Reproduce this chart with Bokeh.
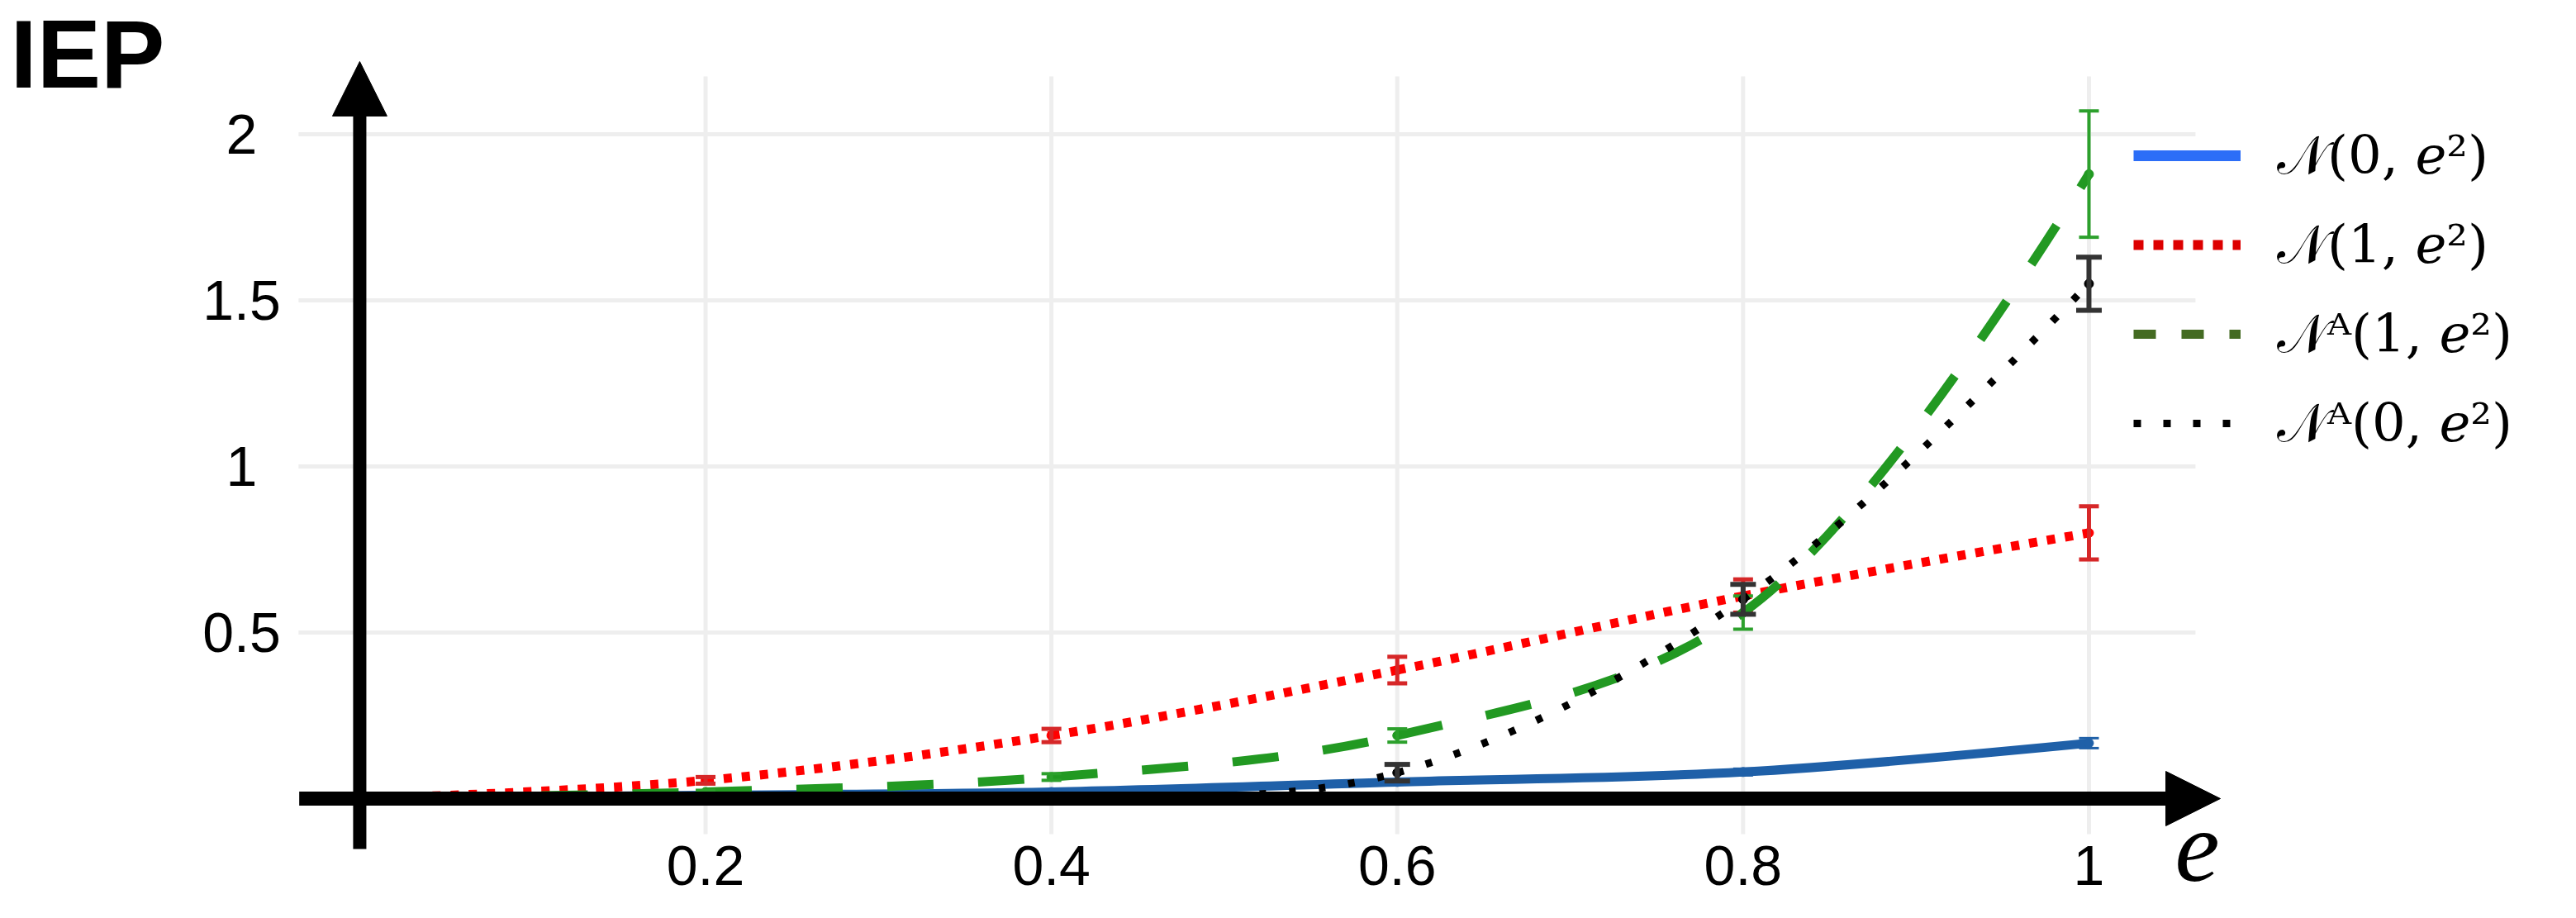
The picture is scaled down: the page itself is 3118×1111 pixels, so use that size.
from bokeh.plotting import figure
from bokeh.models import Arrow, NormalHead, Legend, LegendItem, ColumnDataSource
from bokeh.core.properties import value
from bokeh.embed import file_html
from bokeh.resources import INLINE

# values
e_vals = [0, 0.2, 0.4, 0.6, 0.8, 1.0]
iep_n0 = [0, 0.01, 0.02, 0.05, 0.08, 0.167]
err_n0 = [0, 0.003, 0.004, 0.006, 0.01, 0.015]
iep_n1 = [0, 0.055, 0.19, 0.387, 0.61, 0.80]
err_n1 = [0, 0.01, 0.02, 0.04, 0.05, 0.08]
iep_na1 = [0, 0.02, 0.065, 0.19, 0.56, 1.88]
err_na1 = [0, 0.005, 0.01, 0.02, 0.05, 0.19]
iep_na0 = [0, 0.0, 0.0, 0.078, 0.60, 1.55]
err_na0 = [0, 0.005, 0.01, 0.025, 0.045, 0.08]

series_labels = ["𝒩(0, 𝑒²)", "𝒩(1, 𝑒²)", "𝒩ᴬ(1, 𝑒²)", "𝒩ᴬ(0, 𝑒²)"]

x_ticks = [0.2, 0.4, 0.6, 0.8, 1.0]
x_tick_labels = ["0.2", "0.4", "0.6", "0.8", "1"]
y_ticks = [0.5, 1.0, 1.5, 2.0]
y_tick_labels = ["0.5", "1", "1.5", "2"]

PX, PY = 2093.0, 402.0          # pixels per unit
X0, X1 = -0.2078, 1.2733        # whole canvas
Y0, Y1 = -0.3159, 2.4030
AX0, AX1 = -0.0354, 1.0616      # plot area (grid extent)
AY0, AY1 = -0.107, 2.174


def spline(xs, ys):
    # plotly style smoothed line -> quadratic ends + cubic middle pieces
    pts = [(x * PX, y * PY) for x, y in zip(xs, ys)]
    tan = []
    for i in range(1, len(pts) - 1):
        (x0, y0), (x1, y1), (x2, y2) = pts[i - 1], pts[i], pts[i + 1]
        d1x, d1y = x0 - x1, y0 - y1
        d2x, d2y = x2 - x1, y2 - y1
        d1a = (d1x ** 2 + d1y ** 2) ** 0.25
        d2a = (d2x ** 2 + d2y ** 2) ** 0.25
        nx = d2a * d2a * d1x - d1a * d1a * d2x
        ny = d2a * d2a * d1y - d1a * d1a * d2y
        den1 = 3 * d2a * (d1a + d2a)
        den2 = 3 * d1a * (d1a + d2a)
        tan.append(((x1 + nx / den1, y1 + ny / den1), (x1 - nx / den2, y1 - ny / den2)))
    n = len(pts)
    q = dict(x0=[], y0=[], x1=[], y1=[], cx=[], cy=[])
    for a, b, c in [(0, 1, tan[0][0]), (n - 2, n - 1, tan[-1][1])]:
        q["x0"].append(xs[a]); q["y0"].append(ys[a])
        q["x1"].append(xs[b]); q["y1"].append(ys[b])
        q["cx"].append(c[0] / PX); q["cy"].append(c[1] / PY)
    cb = dict(x0=[], y0=[], x1=[], y1=[], cx0=[], cy0=[], cx1=[], cy1=[])
    for i in range(1, n - 2):
        c0, c1 = tan[i - 1][1], tan[i][0]
        cb["x0"].append(xs[i]); cb["y0"].append(ys[i])
        cb["x1"].append(xs[i + 1]); cb["y1"].append(ys[i + 1])
        cb["cx0"].append(c0[0] / PX); cb["cy0"].append(c0[1] / PY)
        cb["cx1"].append(c1[0] / PX); cb["cy1"].append(c1[1] / PY)
    return q, cb


p = figure(width=3100, height=1093, x_range=(X0, X1), y_range=(Y0, Y1),
           output_backend="svg", toolbar_location=None,
           x_axis_location=None, y_axis_location=None,
           min_border=0, outline_line_color=None)
p.grid.visible = False

# grid of the plot area
p.segment(x0=x_ticks, x1=x_ticks, y0=AY0, y1=AY1, line_color="#eeeeee", line_width=5)
p.segment(x0=AX0, x1=AX1, y0=y_ticks, y1=y_ticks, line_color="#eeeeee", line_width=5)

# tick labels
tick_font = value("Liberation Sans")
p.text(x=x_ticks, y=-0.2027, text=x_tick_labels, text_font=tick_font, text_font_size="68px",
       text_color="black", text_align="center", text_baseline="middle")
p.text(x=-0.0683, y=y_ticks, text=y_tick_labels, text_font=tick_font,
       text_font_size="68px", text_color="black", text_align="center", text_baseline="middle")

styles = [
    (iep_n0, err_n0, "#1f60a8", dict(line_width=11), 3, "#1f60a8", 24),
    (iep_n1, err_n1, "#ff0000", dict(line_width=11, line_dash="10 12"), 5, "#d62728", 24),
    (iep_na1, err_na1, "#229922", dict(line_width=11, line_dash="56 54"), 4, "#2ca02c", 24),
    (iep_na0, err_na0, "#000000", dict(line_width=9, line_dash="8 28"), 6, "#333333", 31),
]

for vals, errs, col, kw, bw, bcol, cap in styles:
    q, cb = spline(e_vals, vals)
    p.quadratic(x0="x0", y0="y0", x1="x1", y1="y1", cx="cx", cy="cy",
                source=ColumnDataSource(q), line_color=col, **kw)
    p.bezier(x0="x0", y0="y0", x1="x1", y1="y1", cx0="cx0", cy0="cy0", cx1="cx1", cy1="cy1",
             source=ColumnDataSource(cb), line_color=col, **kw)
    p.scatter(e_vals[1:], vals[1:], size=11, color=col)
    lo = [v - d for v, d in zip(vals[1:], errs[1:])]
    hi = [v + d for v, d in zip(vals[1:], errs[1:])]
    p.segment(x0=e_vals[1:], x1=e_vals[1:], y0=lo, y1=hi, line_color=bcol, line_width=bw)
    p.scatter(e_vals[1:] + e_vals[1:], lo + hi, marker="dash", size=cap,
              line_color=bcol, line_width=bw)

# axes drawn as arrows through the origin
p.add_layout(Arrow(end=NormalHead(size=66, fill_color="black", line_color="black", line_width=1),
                   x_start=-0.035, y_start=0, x_end=1.076, y_end=0,
                   line_color="black", line_width=17))
p.add_layout(Arrow(end=NormalHead(size=66, fill_color="black", line_color="black", line_width=1),
                   x_start=0, y_start=-0.152, x_end=0, y_end=2.219,
                   line_color="black", line_width=16))

p.text(x=[-0.2021], y=[2.240], text=["IEP"], text_font=value("Liberation Sans"),
       text_font_style="bold", text_font_size="116px", text_color="black",
       text_baseline="middle", text_align="left")
p.text(x=[1.0626], y=[-0.1463], text=["e"], text_font=value("Liberation Serif"),
       text_font_style="italic", text_font_size="122px", text_color="black",
       text_baseline="middle", text_align="center")

# legend, drawn with its own colours as in the picture
leg_styles = [
    dict(line_color="#2c6ef7", line_width=13),
    dict(line_color="#dd0000", line_width=12, line_dash="12 12"),
    dict(line_color="#446b22", line_width=11, line_dash="27 31"),
    dict(line_color="#000000", line_width=9, line_dash="9 27"),
]
items = []
for lab, st in zip(series_labels, leg_styles):
    r = p.line(x=[float("nan")], y=[float("nan")], **st)
    items.append(LegendItem(label=lab, renderers=[r]))
legend = Legend(items=items, location=(2582, 539), orientation="vertical",
                glyph_width=130, glyph_height=84, label_height=84, label_standoff=44,
                spacing=24, padding=0, margin=0, border_line_color=None,
                background_fill_alpha=0, label_text_font="DejaVu Serif",
                label_text_font_size="64px", label_text_color="black")
p.add_layout(legend, "center")

open("out.html", "w").write(file_html(p, INLINE))
